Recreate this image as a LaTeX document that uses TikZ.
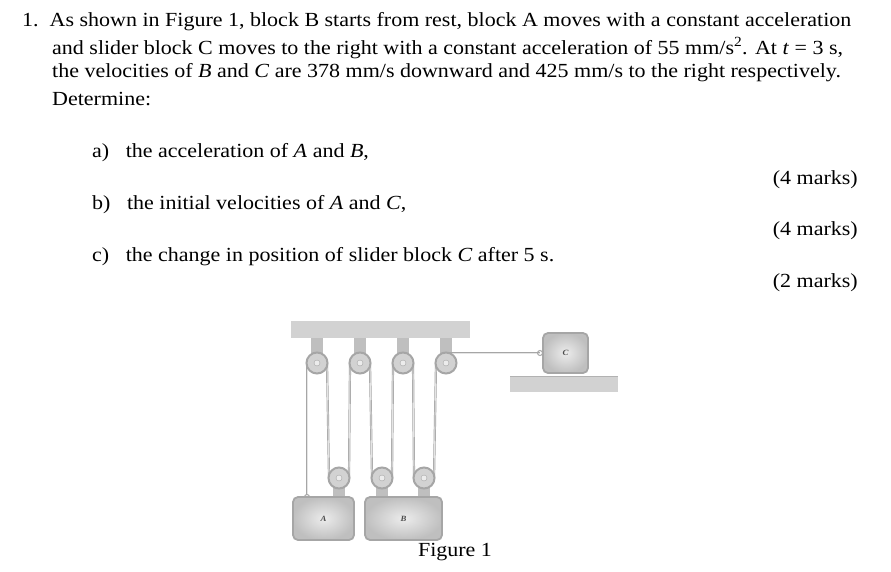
\documentclass[tikz,border=0pt]{standalone}
\usepackage{fontspec}
\setmainfont{Liberation Serif}[FakeStretch=1.1]
\begin{document}
\begin{tikzpicture}[x=1pt,y=-1pt,
 txt/.style={anchor=west,inner sep=0pt,font=\fontsize{20}{22}\selectfont},
 mk/.style={anchor=east,inner sep=0pt,font=\fontsize{20}{22}\selectfont},
 rope/.style={draw=gray!70,line width=2.2pt,postaction={draw=gray!20,line width=0.8pt}},
 pul/.style={circle,draw=gray!70,fill=gray!35,line width=2pt,minimum size=21pt,inner sep=0pt},
 blk/.style={draw=gray!70,line width=1.8pt,rounded corners=5pt,inner color=gray!15,outer color=gray!50,inner sep=0pt},
 lbl/.style={font=\fontsize{8}{9}\selectfont\itshape\bfseries,text=gray!60!black}]
\useasboundingbox[fill=white] (0,0) rectangle (891,571);
\node[txt] (l1) at (22,22) {1.\ \ As shown in Figure 1, block B starts from rest, block A moves with a constant acceleration};
\node[txt] (l2) at (52,48) {and slider block C moves to the right with a constant acceleration of 55 mm/s\textsuperscript{2}. At \textit{t} = 3 s,};
\node[txt] (l3) at (52,73) {the velocities of \textit{B} and \textit{C} are 378 mm/s downward and 425 mm/s to the right respectively.};
\node[txt] (l4) at (52,99) {Determine:};
\node[txt] (a) at (92,153) {a)\ \ \ the acceleration of \textit{A} and \textit{B},};
\node[txt] (b) at (92,205) {b)\ \ \ the initial velocities of \textit{A} and \textit{C},};
\node[txt] (c) at (92,257) {c)\ \ \ the change in position of slider block \textit{C} after 5 s.};
\node[mk] (ma) at (858,180) {(4 marks)};
\node[mk] (mb) at (858,231) {(4 marks)};
\node[mk] (mc) at (858,283) {(2 marks)};
% ceiling and ground
\fill[gray!35] (291,321) rectangle (470,338);
\fill[gray!35] (510,376) rectangle (618,392);
\draw[gray!60,line width=1pt] (510,376) -- (618,376);
% hangers
\foreach \x in {317,360,403,446}{\fill[gray!50] (\x-6,338) rectangle (\x+6,363);}
\foreach \x in {339,382,424}{\fill[gray!50] (\x-6,478) rectangle (\x+6,498);}
% ropes
\draw[rope] (307,363) -- (307,495);
\draw[rope] (327,363) -- (329,478);
\draw[rope] (349,478) -- (350,363);
\draw[rope] (370,363) -- (372,478);
\draw[rope] (392,478) -- (393,363);
\draw[rope] (413,363) -- (414,478);
\draw[rope] (434,478) -- (436,363);
\draw[rope] (446,353) -- (540,353);
% pulleys
\foreach \n/\x/\y in {p1/317/363,p2/360/363,p3/403/363,p4/446/363,q1/339/478,q2/382/478,q3/424/478}{
 \node[pul] (\n) at (\x,\y) {};
 \draw[gray!70,fill=gray!15] (\x,\y) circle (3pt);}
\draw[gray!70,line width=1pt] (307,497) circle (2.5pt);
\draw[gray!70,line width=1pt] (540,353) circle (2.5pt);
% blocks
\node[blk,minimum width=61pt,minimum height=43pt] (A) at (323.5,518.5) {};
\node[blk,minimum width=77pt,minimum height=43pt] (B) at (403.5,518.5) {};
\node[blk,minimum width=45pt,minimum height=40pt] (C) at (565.5,353) {};
\node[lbl] at (A) {A};
\node[lbl] at (B) {B};
\node[lbl] at (C) {C};
\node[inner sep=0pt,font=\fontsize{20}{22}\selectfont] (fig) at (455,552) {Figure 1};
\end{tikzpicture}
\end{document}
